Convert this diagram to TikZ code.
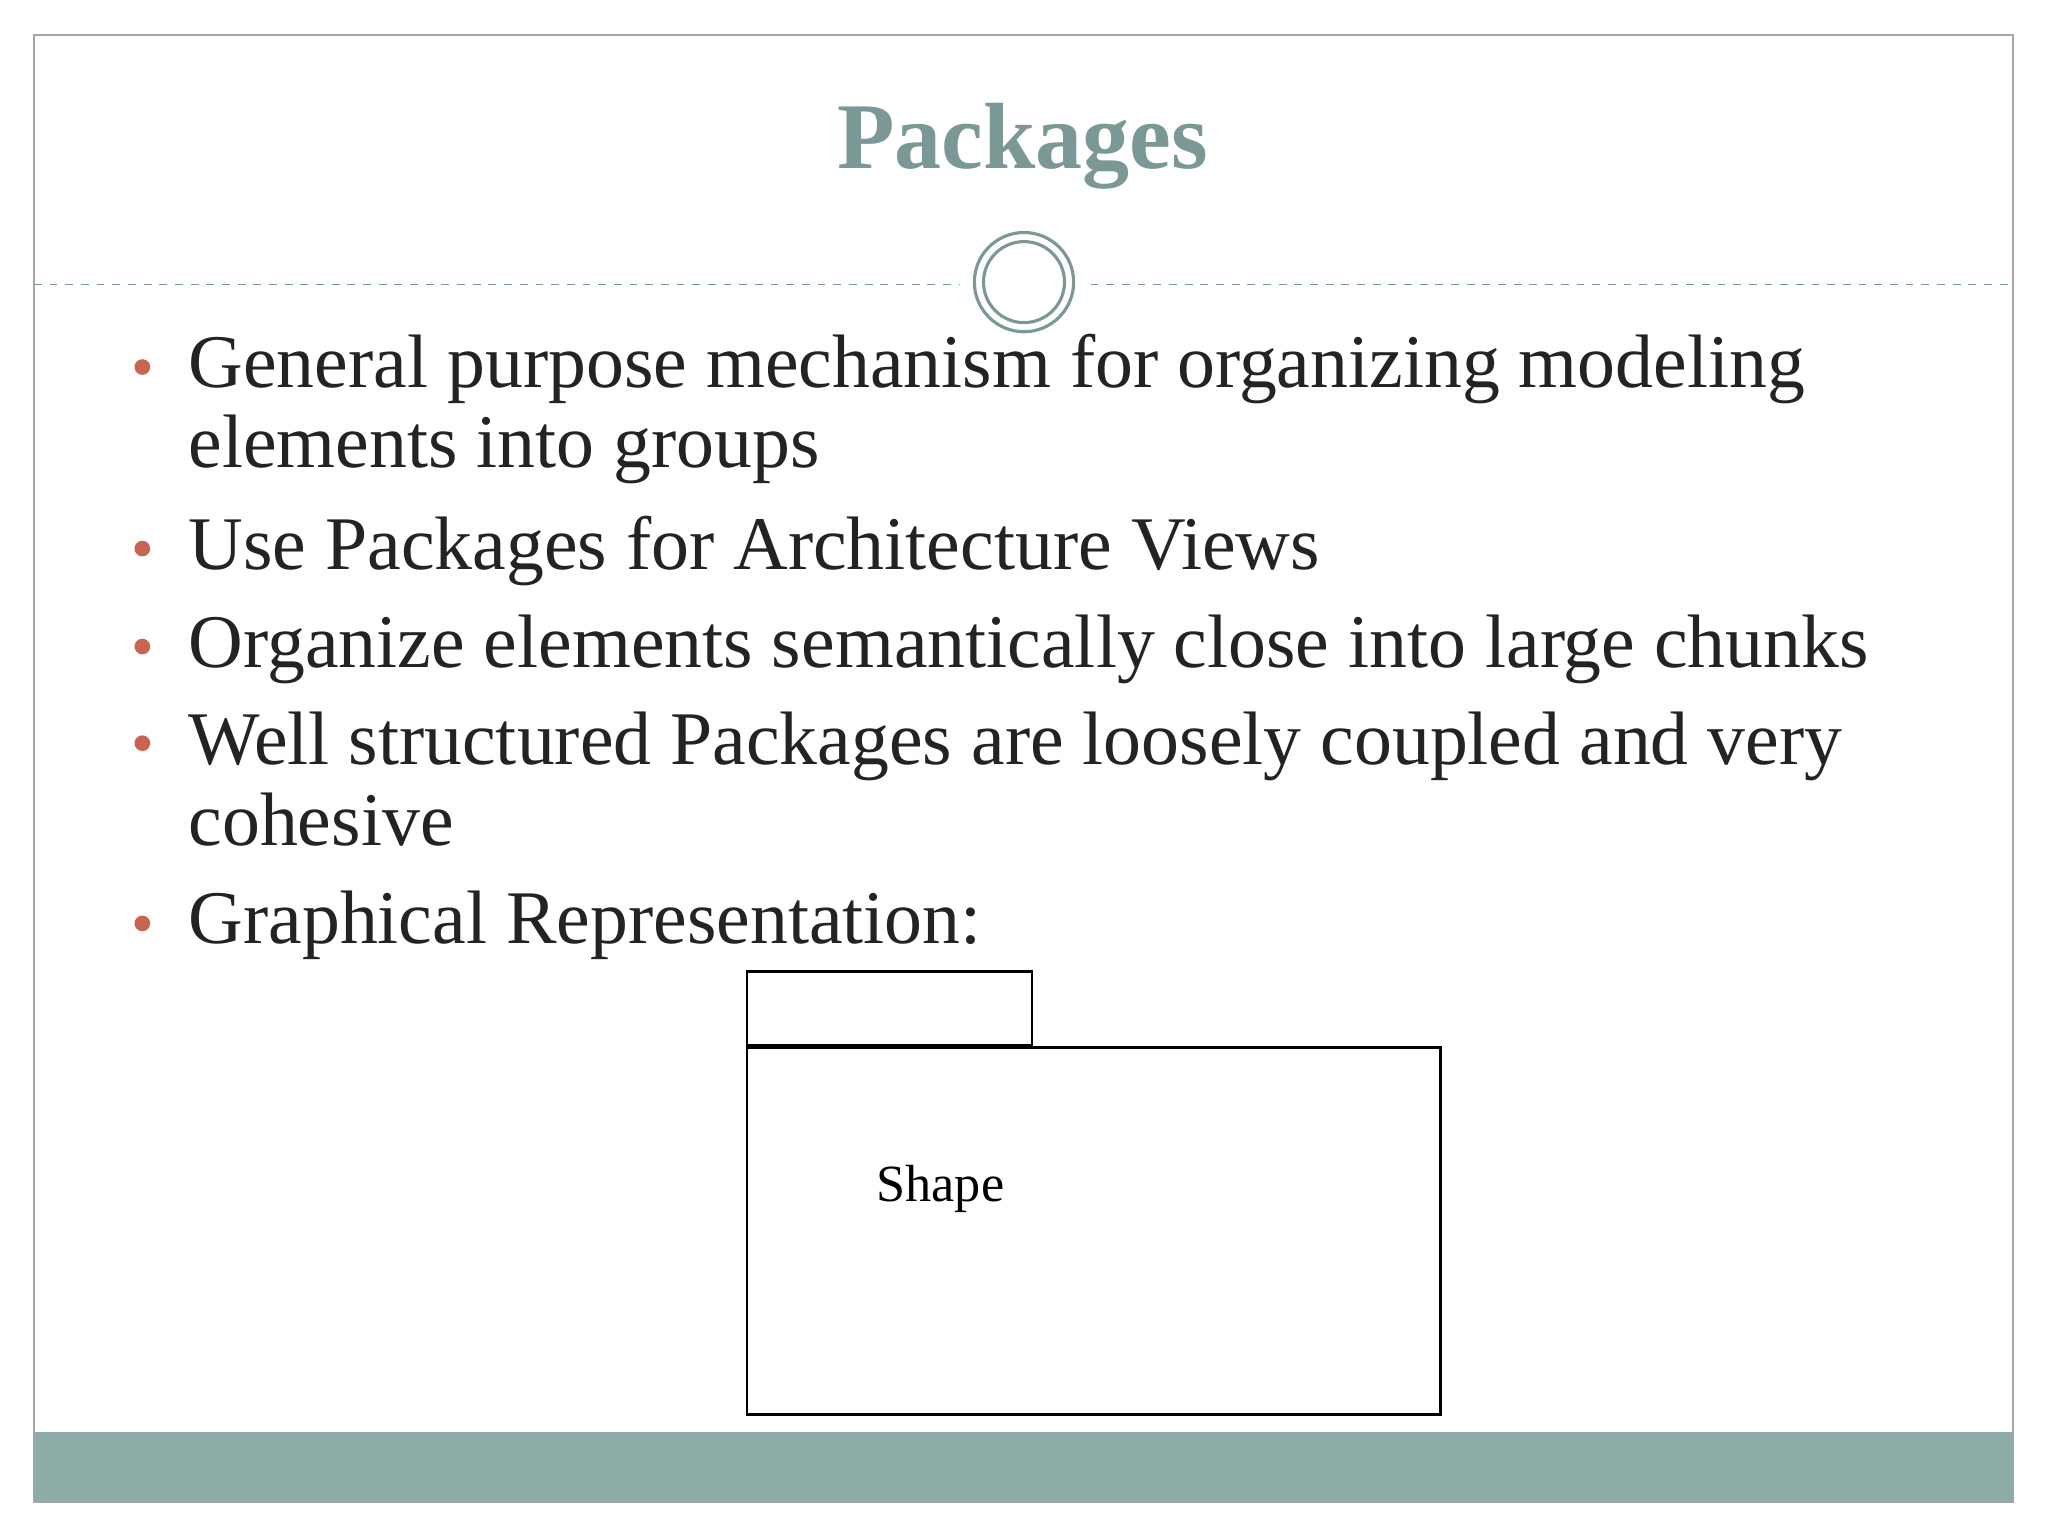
\documentclass[tikz,border=0pt]{standalone}
\usepackage{fontspec}
\setmainfont{Liberation Serif}
\definecolor{teal1}{RGB}{122,152,150}
\definecolor{bar}{RGB}{141,172,168}
\definecolor{bul}{RGB}{200,100,80}
\definecolor{txt}{RGB}{35,35,35}
\begin{document}
\begin{tikzpicture}[x=0.5pt,y=-0.5pt,
  line/.style={anchor=base west,font=\fontsize{29}{34}\selectfont,text=txt,inner sep=0},
  dot/.style={circle,fill=bul,inner sep=0,minimum size=6pt}]
\useasboundingbox (0,0) rectangle (1568,1176);
\fill[white] (0,0) rectangle (1568,1176);
\draw[gray!70,line width=0.8pt] (26,27) rectangle (1541,1150);
\fill[bar] (26,1096) rectangle (1541,1150);
\node[font=\fontsize{36}{40}\selectfont\bfseries,text=teal1] (title) at (783,112) {Packages};
\draw[teal1,dashed,line width=0.5pt] (26,218) -- (735,218);
\draw[teal1,dashed,line width=0.5pt] (835,218) -- (1541,218);
\draw[teal1,line width=1.2pt] (784,216) circle[radius=38];
\draw[teal1,line width=1.2pt] (784,216) circle[radius=31];
\foreach \y in {281,420,495,569,707} \node[dot] at (109,\y) {};
\node[line] (l1) at (144,297) {General purpose mechanism for organizing modeling};
\node[line] (l1b) at (144,358) {elements into groups};
\node[line] (l2) at (144,436) {Use Packages for Architecture Views};
\node[line] (l3) at (144,511) {Organize elements semantically close into large chunks};
\node[line] (l4) at (144,585) {Well structured Packages are loosely coupled and very};
\node[line] (l4b) at (144,647) {cohesive};
\node[line] (l5) at (144,722) {Graphical Representation:};
\draw[black,line width=1pt] (572,744) rectangle (790,800);
\draw[black,line width=1pt] (572,802) rectangle (1103,1083);
\node[font=\fontsize{20}{24}\selectfont] (shape) at (720,910) {Shape};
\end{tikzpicture}
\end{document}
